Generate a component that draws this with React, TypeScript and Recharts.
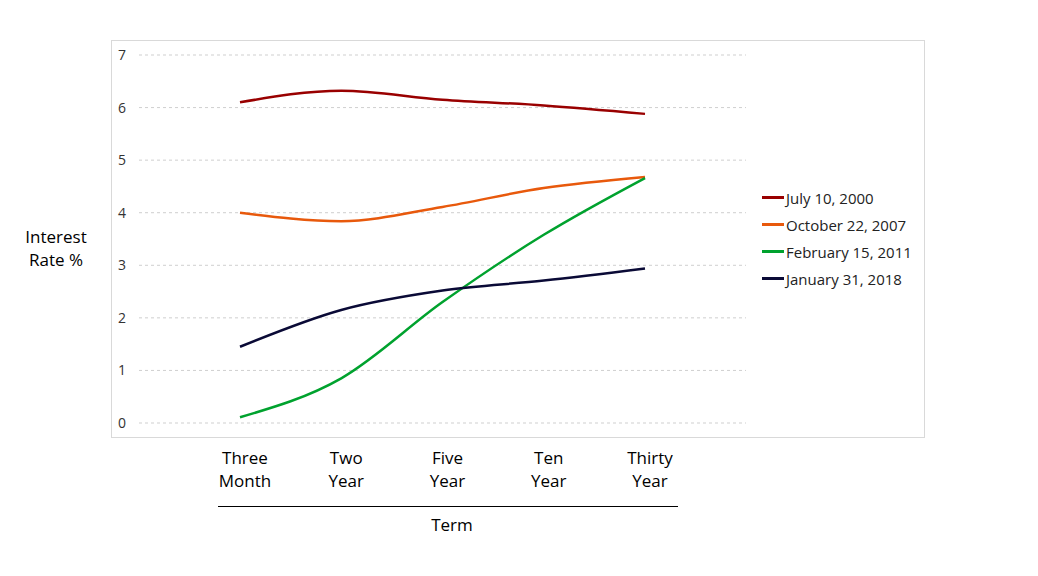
import React from "react";
import { LineChart, Line, XAxis, YAxis, CartesianGrid, Legend } from "recharts";

const terms = ["Three Month", "Two Year", "Five Year", "Ten Year", "Thirty Year"];
const july2000 = [6.1, 6.32, 6.15, 6.04, 5.88];
const oct2007 = [4.0, 3.84, 4.11, 4.47, 4.68];
const feb2011 = [0.11, 0.85, 2.3, 3.58, 4.66];
const jan2018 = [1.45, 2.15, 2.52, 2.71, 2.94];
const yTicks = [0, 1, 2, 3, 4, 5, 6, 7];

const seriesNames = ["July 10, 2000", "October 22, 2007", "February 15, 2011", "January 31, 2018"];
const seriesColors = ["#990000", "#e8590c", "#00a22e", "#0a0a36"];
const seriesValues = [july2000, oct2007, feb2011, jan2018];

const data = terms.map((t, i) => {
  const row: Record<string, any> = { term: t };
  seriesNames.forEach((n, s) => {
    row[n] = seriesValues[s][i];
  });
  return row;
});

const FONT = "'Open Sans', sans-serif";

const XTick = (props: any) => {
  const { x, y, payload } = props;
  const parts = String(payload.value).split(" ");
  return (
    <text x={x + 5} y={y} textAnchor="middle" fontFamily={FONT} fontSize={17} fill="#000">
      <tspan x={x + 5} dy={41}>{parts[0]}</tspan>
      <tspan x={x + 5} dy={23}>{parts[1]}</tspan>
    </text>
  );
};

const LegendContent = (props: any) => {
  const payload = [...(props.payload || [])].sort(
    (a: any, b: any) => seriesNames.indexOf(a.value) - seriesNames.indexOf(b.value)
  );
  return (
    <div style={{ fontFamily: FONT, fontSize: 15, color: "#222" }}>
      {payload.map((p: any) => (
        <div key={p.value} style={{ display: "flex", alignItems: "center", height: 27 }}>
          <span style={{ display: "inline-block", width: 22, height: 3, background: p.color, marginRight: 2 }} />
          <span>{p.value}</span>
        </div>
      ))}
    </div>
  );
};

export default function App() {
  return (
    <div style={{ position: "absolute", left: 0, top: 0, width: 1038, height: 576, background: "#fff" }}>
      <div
        style={{
          position: "absolute",
          left: 111,
          top: 40,
          width: 812,
          height: 396,
          border: "1px solid #d9d9d9",
        }}
      />
      <div style={{ position: "absolute", left: 0, top: 0 }}>
        <LineChart width={1038} height={576} data={data} margin={{ top: 55, right: 292, bottom: 53, left: 79 }}>
          <CartesianGrid horizontal vertical={false} stroke="#cfcfcf" strokeDasharray="3 3" />
          <XAxis
            dataKey="term"
            type="category"
            padding={{ left: 101, right: 101 }}
            axisLine={false}
            tickLine={false}
            tickSize={0}
            tickMargin={0}
            height={100}
            interval={0}
            tick={<XTick />}
            label={{
              content: () => (
                <g>
                  <line x1={218} x2={678} y1={506.5} y2={506.5} stroke="#000" strokeWidth={1} />
                  <text x={452} y={531} textAnchor="middle" fontFamily={FONT} fontSize={17} fill="#000">
                    Term
                  </text>
                </g>
              ),
            }}
          />
          <YAxis
            width={60}
            domain={[0, 7]}
            ticks={yTicks}
            axisLine={false}
            tickLine={false}
            tickSize={0}
            tickMargin={13}
            tick={{ fontFamily: FONT, fontSize: 14, fill: "#333" }}
            label={{
              content: () => (
                <text textAnchor="middle" fontFamily={FONT} fontSize={17} fill="#000">
                  <tspan x={56} y={243}>Interest</tspan>
                  <tspan x={56} y={266}>Rate %</tspan>
                </text>
              ),
            }}
          />
          <Legend
            layout="horizontal"
            align="center"
            verticalAlign="middle"
            content={<LegendContent />}
            wrapperStyle={{ position: "absolute", left: 762, top: 184, width: 175 }}
          />
          {seriesNames.map((n, i) => (
            <Line
              key={n}
              type="monotone"
              dataKey={n}
              name={n}
              stroke={seriesColors[i]}
              strokeWidth={2.5}
              dot={false}
              activeDot={false}
              isAnimationActive={false}
            />
          ))}
        </LineChart>
      </div>
    </div>
  );
}
